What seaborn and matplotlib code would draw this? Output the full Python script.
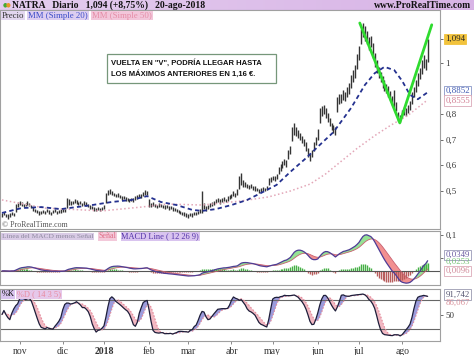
import numpy as np
import pandas as pd
import matplotlib
matplotlib.use("Agg")
import matplotlib.pyplot as plt
import matplotlib.transforms as mtransforms
from matplotlib.patches import Rectangle
from matplotlib.colors import LinearSegmentedColormap
import seaborn as sns

# ---------------- data ----------------
start_date = "2017-10-19"

# daily bar centre and bar length (high - low), one entry per trading day
price_mid = [
    0.405, 0.410, 0.402, 0.398, 0.404, 0.410, 0.406,
    0.432, 0.445, 0.450, 0.447, 0.441, 0.446, 0.452, 0.444, 0.437,
    0.428, 0.423, 0.418, 0.412, 0.415, 0.419, 0.413, 0.420, 0.416, 0.410, 0.417, 0.421, 0.414, 0.416, 0.419, 0.422, 0.425,
    0.452, 0.455, 0.450, 0.454,
    0.458, 0.455, 0.449, 0.452, 0.446, 0.450, 0.447, 0.441,
    0.436, 0.432, 0.428, 0.425, 0.430, 0.427, 0.429, 0.434,
    0.470, 0.492, 0.495,
    0.490, 0.484, 0.480, 0.482, 0.476, 0.471, 0.473, 0.468, 0.465, 0.460, 0.464, 0.462,
    0.470, 0.476, 0.481, 0.478, 0.486, 0.493, 0.489,
    0.452, 0.443, 0.447, 0.441, 0.438, 0.443,
    0.441, 0.437, 0.435, 0.438, 0.431, 0.433, 0.428, 0.425, 0.420, 0.417, 0.414, 0.411, 0.408,
    0.404, 0.400, 0.407, 0.403, 0.408, 0.410, 0.413, 0.418,
    0.455,
    0.438, 0.430, 0.436, 0.442, 0.447,
    0.452, 0.458, 0.462, 0.457, 0.463, 0.466, 0.460, 0.468,
    0.474, 0.480, 0.487, 0.483, 0.494,
    0.530, 0.545, 0.528,
    0.522, 0.518, 0.514, 0.517, 0.511, 0.508, 0.504,
    0.498, 0.503, 0.507, 0.505, 0.510,
    0.535, 0.544, 0.549, 0.547, 0.555,
    0.578, 0.590, 0.602, 0.612, 0.606,
    0.640, 0.660,
    0.720, 0.742, 0.730, 0.722,
    0.712, 0.700, 0.688, 0.672,
    0.650, 0.632, 0.645,
    0.672, 0.695, 0.720,
    0.795, 0.812, 0.818, 0.805, 0.785,
    0.768, 0.752, 0.742,
    0.733,
    0.838, 0.858,
    0.862, 0.875, 0.868, 0.885, 0.900,
    0.928, 0.950, 0.968,
    1.005, 1.040,
    1.105, 1.128, 1.115, 1.100,
    1.078, 1.085, 1.050,
    1.010, 0.985, 0.962, 0.945,
    0.925, 0.912, 0.900, 0.888, 0.872,
    0.852, 0.860, 0.828,
    0.792, 0.782,
    0.800, 0.812, 0.808, 0.820, 0.832,
    0.862, 0.885, 0.910, 0.935, 0.958,
    0.985, 1.005, 0.995, 1.050,
]
price_rng = [
    0.014, 0.012, 0.014, 0.016, 0.012, 0.015, 0.013,
    0.030, 0.020, 0.015, 0.012, 0.014, 0.013, 0.016, 0.012, 0.014,
    0.014, 0.012, 0.013, 0.015, 0.012, 0.011, 0.014, 0.012, 0.013, 0.015, 0.012, 0.011, 0.013, 0.012, 0.014, 0.012, 0.016,
    0.040, 0.020, 0.015, 0.012,
    0.014, 0.012, 0.015, 0.012, 0.013, 0.014, 0.012, 0.015,
    0.014, 0.012, 0.013, 0.012, 0.014, 0.011, 0.012, 0.015,
    0.040, 0.022, 0.018,
    0.016, 0.014, 0.012, 0.015, 0.013, 0.014, 0.012, 0.015, 0.013, 0.014, 0.012, 0.016,
    0.014, 0.015, 0.013, 0.016, 0.014, 0.018, 0.015,
    0.030, 0.015, 0.013, 0.014, 0.012, 0.013,
    0.013, 0.012, 0.014, 0.012, 0.013, 0.012, 0.014, 0.013, 0.012, 0.014, 0.012, 0.013, 0.014,
    0.014, 0.012, 0.013, 0.015, 0.012, 0.013, 0.014, 0.016,
    0.085,
    0.025, 0.018, 0.016, 0.015, 0.017,
    0.016, 0.015, 0.014, 0.016, 0.013, 0.015, 0.014, 0.018,
    0.018, 0.016, 0.020, 0.017, 0.022,
    0.050, 0.045, 0.028,
    0.020, 0.018, 0.016, 0.017, 0.015, 0.016, 0.014,
    0.015, 0.014, 0.016, 0.013, 0.018,
    0.030, 0.020, 0.018, 0.016, 0.020,
    0.030, 0.025, 0.028, 0.022, 0.024,
    0.035, 0.030,
    0.055, 0.045, 0.035, 0.030,
    0.030, 0.028, 0.030, 0.035,
    0.035, 0.030, 0.028,
    0.035, 0.030, 0.040,
    0.060, 0.040, 0.035, 0.040, 0.035,
    0.030, 0.028, 0.030,
    0.030,
    0.060, 0.040,
    0.035, 0.040, 0.035, 0.040, 0.045,
    0.050, 0.045, 0.050,
    0.060, 0.055,
    0.060, 0.055, 0.060, 0.050,
    0.050, 0.045, 0.060,
    0.055, 0.050, 0.045, 0.040,
    0.045, 0.040, 0.038, 0.040, 0.035,
    0.035, 0.070, 0.035,
    0.035, 0.030,
    0.035, 0.030, 0.035, 0.030, 0.035,
    0.045, 0.040, 0.045, 0.050, 0.045,
    0.055, 0.050, 0.045, 0.090,
]

# moving averages (bar number, value)
ma20_pos = [0, 10, 20, 30, 38, 46, 56, 66, 74, 81, 89, 97, 102, 109, 117, 125, 132, 140,
            147, 155, 163, 169, 178, 185, 190, 195, 200, 204, 208, 212, 217]
ma20_val = [0.412, 0.431, 0.435, 0.427, 0.435, 0.443, 0.455, 0.463, 0.478, 0.455, 0.443, 0.424,
            0.420, 0.427, 0.443, 0.463, 0.490, 0.522, 0.573, 0.627, 0.686, 0.729, 0.824, 0.914,
            0.960, 0.985, 0.972, 0.930, 0.875, 0.858, 0.8852]
ma50_pos = [0, 22, 51, 71, 84, 102, 122, 136, 147, 157, 165, 173, 181, 190, 198, 207, 217]
ma50_val = [0.463, 0.431, 0.420, 0.435, 0.447, 0.443, 0.459, 0.475, 0.498, 0.525, 0.565,
            0.615, 0.665, 0.715, 0.755, 0.795, 0.8555]

# hand-drawn green "V"
v_pos = [182.4, 202.8, 219.1]
v_val = [1.157, 0.765, 1.150]

month_starts = ["2017-11", "2017-12", "2018-01", "2018-02", "2018-03",
                "2018-04", "2018-05", "2018-06", "2018-07", "2018-08"]
month_labels = ["nov", "dic", "2018", "feb", "mar", "abr", "may", "jun", "jul", "ago"]

price_ticks = [0.5, 0.6, 0.7, 0.8, 1.0]
price_tick_labels = ["0,5", "0,6", "0,7", "0,8", "1"]

# ---------------- derived ----------------
mid = np.array(price_mid)
rng = np.array(price_rng)
n = len(mid)
idx = np.arange(n)
dates = pd.bdate_range(start_date, periods=n)
lo = mid - rng / 2
hi = mid + rng / 2
s = pd.Series(mid)
macd = (s.ewm(span=12, adjust=False).mean() - s.ewm(span=26, adjust=False).mean()).values
signal = pd.Series(macd).ewm(span=9, adjust=False).mean().values
hist = macd - signal
ll = pd.Series(lo).rolling(14, min_periods=1).min()
hh = pd.Series(hi).rolling(14, min_periods=1).max()
raw_k = 100 * (s - ll) / (hh - ll)
k_line = raw_k.rolling(3, min_periods=1).mean().values
d_line = pd.Series(k_line).rolling(5, min_periods=1).mean().values
month_idx = [int(np.argmax(dates.strftime("%Y-%m") == m)) for m in month_starts]

# ---------------- figure ----------------
sns.set_theme(style="white")
plt.rcParams["font.family"] = ["Liberation Serif", "DejaVu Serif"]
W, H = 474, 355
fig = plt.figure(figsize=(W / 100, H / 100), dpi=100)
fig.patch.set_facecolor("white")


def px_axes(x0, y0, x1, y1):
    return fig.add_axes([x0 / W, 1 - y1 / H, (x1 - x0) / W, (y1 - y0) / H])


def fx(x):
    return x / W


def fy(y):
    return 1 - y / H


XL = (-1.0, 223.3)

# header band
ax_h = px_axes(0, 0, W, 10)
cmap_h = LinearSegmentedColormap.from_list("h", ["#e4cdef", "#d8b4e6"])
ax_h.imshow(np.linspace(0, 1, 256)[None, :], cmap=cmap_h, aspect="auto", extent=[0, 1, 0, 1])
ax_h.axhline(0.02, color="#b890cc", lw=0.8)
ax_h.set_axis_off()
fig.text(fx(2.5), fy(5), "●", fontsize=4, color="#44aa33", va="center", family="DejaVu Sans")
fig.text(fx(6), fy(5), "●", fontsize=4, color="#e8962a", va="center", family="DejaVu Sans")
fig.text(fx(12), fy(5), "NATRA   Diario   1,094 (+8,75%)   20-ago-2018", fontsize=6.9,
         fontweight="bold", va="center", ha="left", color="#111111")
fig.text(fx(471), fy(5), "www.ProRealTime.com", fontsize=6.9, fontweight="bold",
         va="center", ha="right", color="#111111")

spine_c = "#a0a0a0"


def style_axes(ax):
    ax.set_facecolor("white")
    for sp in ax.spines.values():
        sp.set_color(spine_c)
        sp.set_linewidth(0.8)
    ax.yaxis.tick_right()
    ax.tick_params(axis="y", which="both", direction="out", length=2.2, width=0.6,
                   color="#555555", labelsize=6.3, pad=1.5, labelcolor="#333333",
                   left=False, right=True)
    ax.tick_params(axis="x", bottom=False, labelbottom=False)
    ax.set_xlim(*XL)
    ax.set_xlabel("")
    ax.set_ylabel("")


def rlabel(ax, y, txt, color="#333333", fc=None, ec=None):
    tr = mtransforms.blended_transform_factory(ax.transAxes, ax.transData)
    bbox = None
    if fc is not None or ec is not None:
        bbox = dict(boxstyle="square,pad=0.12", fc=fc or "white", ec=ec or "none", lw=0.6)
    ax.text(1.012, y, txt, transform=tr, ha="left", va="center", fontsize=6.3,
            color=color, bbox=bbox, clip_on=False)


def legend_chip(x, y, txt, color, bg, size=6.0):
    fig.text(fx(x), fy(y), txt, fontsize=size, color=color, va="center", ha="left",
             bbox=dict(boxstyle="square,pad=0.1", fc=bg, ec="none"))


# ---------------- price panel ----------------
ax_p = px_axes(0, 10, 440, 229)
ax_p.vlines(idx, lo, hi, color="#353535", lw=1.0)
sns.lineplot(x=ma50_pos, y=ma50_val, ax=ax_p, color="#e3a7b8", lw=1.1,
             linestyle=(0, (1.0, 1.6)), errorbar=None, sort=False)
sns.lineplot(x=ma20_pos, y=ma20_val, ax=ax_p, color="#24318f", lw=1.3,
             linestyle=(0, (2.4, 1.8)), errorbar=None, sort=False)
sns.lineplot(x=v_pos, y=v_val, ax=ax_p, color="#2fdb2f", lw=2.0, errorbar=None, sort=False)
style_axes(ax_p)
ax_p.set_ylim(0.349, 1.208)
ax_p.set_yticks(price_ticks + [1.094])
ax_p.set_yticklabels(price_tick_labels + [""])
rlabel(ax_p, 1.094, "1,094", color="#222222", fc="#f2c33c", ec="#f2c33c")
rlabel(ax_p, 0.892, "0,8852", color="#3a55b0", fc="white", ec="#8896c8")
rlabel(ax_p, 0.853, "0,8555", color="#d07a90", fc="white", ec="#dba8b8")

legend_chip(1.5, 15.5, "Precio", "#333333", "#e2d6ee", 6.3)
legend_chip(28, 15.5, "MM (Simple 20)", "#3b4cc8", "#dccdf0", 6.3)
legend_chip(92, 15.5, "MM (Simple 50)", "#e58ca6", "#f2c6da", 6.3)
fig.text(fx(2), fy(225), "© ProRealTime.com", fontsize=5.8, color="#555555", va="center")

# annotation box
fig.patches.append(Rectangle((fx(107), fy(83)), 169 / W, 29 / H, transform=fig.transFigure,
                             fc="white", ec="#76977a", lw=0.9, zorder=5))
fig.text(fx(111), fy(68.5),
         "VUELTA EN \"V\", PODRÍA LLEGAR HASTA\nLOS MÁXIMOS ANTERIORES EN 1,16 €.",
         fontsize=5.5, fontweight="bold", family=["Liberation Sans", "DejaVu Sans"],
         va="center", ha="left", linespacing=1.45, color="#111111", zorder=6)

# ---------------- MACD panel ----------------
ax_m = px_axes(0, 231, 440, 285)
ax_m.vlines(idx, 0, hist, colors=np.where(hist >= 0, "#45b045", "#b85c5c"), lw=1.0)
ax_m.fill_between(idx, macd, signal, where=macd >= signal, interpolate=True,
                  color="#95e295", lw=0)
ax_m.fill_between(idx, macd, signal, where=macd < signal, interpolate=True,
                  color="#f29090", lw=0)
ax_m.axhline(0, color="#555555", lw=0.8)
sns.lineplot(x=idx, y=signal, ax=ax_m, color="#c86070", lw=0.6, errorbar=None, sort=False)
sns.lineplot(x=idx, y=macd, ax=ax_m, color="#4e3c95", lw=0.9, errorbar=None, sort=False)
style_axes(ax_m)
ax_m.set_ylim(-0.039, 0.111)
ax_m.set_yticks([0.1, 0.0349])
ax_m.set_yticklabels(["0,1", ""])
rlabel(ax_m, 0.044, "0,0349", color="#6a5aa0", fc="white", ec="#9a9ab8")
rlabel(ax_m, 0.0245, "0,0253", color="#78c478")
rlabel(ax_m, 0.0, "0,0096", color="#d08898", fc="white", ec="#dcaab8")
legend_chip(1.5, 236.5, "Linea del MACD menos Señal", "#8f8aa0", "#d9cbe6", 5.3)
legend_chip(98.5, 236.5, "Señal", "#e0708a", "#f3c9da", 5.8)
legend_chip(121.5, 236.5, "MACD Line ( 12 26 9)", "#5232a8", "#d9c4ef", 6.0)

# ---------------- Stochastic panel ----------------
ax_s = px_axes(0, 289, 440, 341)
ax_s.fill_between(idx, k_line, d_line, where=k_line >= d_line, interpolate=True,
                  color="#9c9cdc", lw=0)
ax_s.fill_between(idx, k_line, d_line, where=k_line < d_line, interpolate=True,
                  color="#f2b8c2", lw=0)
ax_s.axhline(80, color="#666666", lw=0.8)
ax_s.axhline(20, color="#666666", lw=0.8)
sns.lineplot(x=idx, y=d_line, ax=ax_s, color="#e38b9b", lw=0.8,
             linestyle=(0, (1.5, 1.5)), errorbar=None, sort=False)
sns.lineplot(x=idx, y=k_line, ax=ax_s, color="#1e1e3a", lw=0.9, errorbar=None, sort=False)
style_axes(ax_s)
ax_s.set_ylim(-4.8, 102.8)
ax_s.set_yticks([50])
ax_s.set_yticklabels(["50"])
rlabel(ax_s, 91.5, "91,742", color="#555570", fc="white", ec="#9a9ab0")
rlabel(ax_s, 75.0, "86,067", color="#d8909a")
legend_chip(1.5, 294.5, "%K", "#111111", "#d9c4ef", 6.0)
legend_chip(17, 294.5, "%D ( 14 3 5)", "#e88aa0", "#e6c8ea", 6.0)

ax_s.tick_params(axis="x", bottom=True, labelbottom=True, direction="out", length=2,
                 width=0.6, color="#777777", labelsize=7.0, pad=2.5, labelcolor="#333333")
ax_s.set_xticks(month_idx)
ax_s.set_xticklabels(month_labels)
for t in ax_s.get_xticklabels():
    if t.get_text() == "2018":
        t.set_fontweight("bold")

fig.savefig("out.png", dpi=100, facecolor="white")
